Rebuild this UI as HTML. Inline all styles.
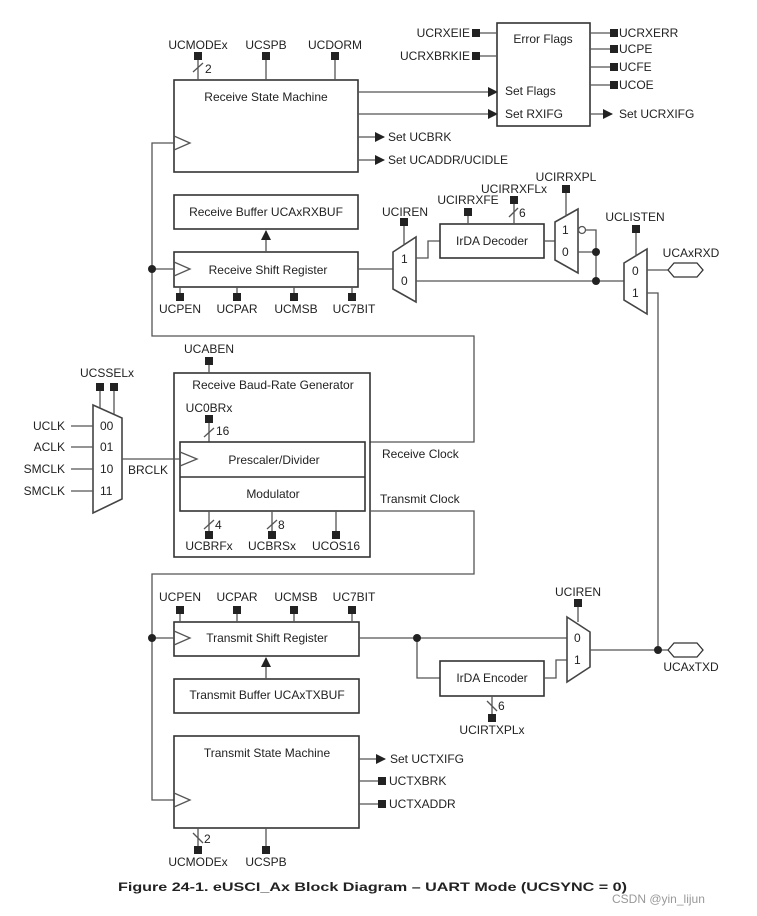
<!DOCTYPE html>
<html><head><meta charset="utf-8"><style>
html,body{margin:0;padding:0;background:#fff;}
svg{display:block;}
text{font-family:"Liberation Sans",Arial,sans-serif;font-size:12px;fill:#222;}
</style></head><body>
<svg width="757" height="916" viewBox="0 0 757 916" xmlns="http://www.w3.org/2000/svg">
<defs>
<marker id="a" markerWidth="10" markerHeight="10" refX="9" refY="5" orient="auto" markerUnits="userSpaceOnUse"><path d="M0,0 L10,5 L0,10 Z" fill="#222"/></marker>
</defs>
<g fill="none" stroke="#555" stroke-width="1.3">
<!-- Receive State Machine -->
<rect x="174" y="80" width="184" height="92" stroke="#333" stroke-width="1.6"/>
<polyline points="174,136 190,143 174,150" />
<line x1="198" y1="57" x2="198" y2="80"/><line x1="193" y1="72" x2="203" y2="63"/>
<line x1="266" y1="57" x2="266" y2="80"/><line x1="335" y1="57" x2="335" y2="80"/>
<line x1="358" y1="92" x2="497" y2="92" marker-end="url(#a)"/>
<line x1="358" y1="114" x2="497" y2="114" marker-end="url(#a)"/>
<line x1="358" y1="137" x2="384" y2="137" marker-end="url(#a)"/>
<line x1="358" y1="160" x2="384" y2="160" marker-end="url(#a)"/>
<!-- Error flags -->
<rect x="497" y="23" width="93" height="103" stroke="#333" stroke-width="1.6"/>
<line x1="476" y1="33" x2="497" y2="33"/><line x1="476" y1="56" x2="497" y2="56"/>
<line x1="590" y1="33" x2="612" y2="33"/><line x1="590" y1="49" x2="612" y2="49"/>
<line x1="590" y1="67" x2="612" y2="67"/><line x1="590" y1="85" x2="612" y2="85"/>
<line x1="590" y1="114" x2="612" y2="114" marker-end="url(#a)"/>
<!-- clock line -->
<polyline points="174,143 152,143 152,336 474,336 474,442 370,442"/>
<!-- Rx buffer & shift -->
<rect x="174" y="195" width="184" height="34" stroke="#333" stroke-width="1.6"/>
<rect x="174" y="252" width="184" height="35" stroke="#333" stroke-width="1.6"/>
<line x1="266" y1="252" x2="266" y2="231" marker-end="url(#a)"/>
<polyline points="174,262 190,269 174,276"/>
<line x1="152" y1="269" x2="174" y2="269"/>
<line x1="180" y1="287" x2="180" y2="297"/><line x1="237" y1="287" x2="237" y2="297"/>
<line x1="294" y1="287" x2="294" y2="297"/><line x1="352" y1="287" x2="352" y2="297"/>
<line x1="358" y1="269" x2="393" y2="269"/>
<!-- mux1 -->
<polygon points="393,252 416,237 416,302 393,289" stroke="#444" stroke-width="1.6"/>
<line x1="404" y1="222" x2="404" y2="245"/>
<polyline points="416,258 428,258 428,241 440,241"/>
<line x1="416" y1="281" x2="624" y2="281"/>
<!-- IrDA decoder -->
<rect x="440" y="224" width="104" height="34" stroke="#333" stroke-width="1.6"/>
<line x1="468" y1="212" x2="468" y2="224"/>
<line x1="514" y1="200" x2="514" y2="224"/><line x1="509" y1="217" x2="518" y2="208"/>
<line x1="544" y1="241" x2="555" y2="241"/>
<!-- mux2 -->
<polygon points="555,222 578,209 578,273 555,260" stroke="#444" stroke-width="1.6"/>
<line x1="566" y1="189" x2="566" y2="216"/>
<circle cx="582" cy="230" r="3.5" fill="#fff"/>
<polyline points="586,230 596,230 596,281"/>
<line x1="578" y1="252" x2="596" y2="252"/>
<!-- mux3 -->
<polygon points="624,263 647,249 647,314 624,300" stroke="#444" stroke-width="1.6"/>
<line x1="636" y1="229" x2="636" y2="256"/>
<line x1="647" y1="270" x2="668" y2="270"/>
<polyline points="647,293 658,293 658,650"/>
<!-- Baud gen -->
<rect x="174" y="373" width="196" height="184" stroke="#333" stroke-width="1.6"/>
<line x1="209" y1="361" x2="209" y2="373"/>
<line x1="209" y1="419" x2="209" y2="442"/><line x1="204" y1="437" x2="214" y2="428"/>
<rect x="180" y="442" width="185" height="69" stroke="#333" stroke-width="1.6"/>
<line x1="180" y1="477" x2="365" y2="477" stroke="#333" stroke-width="1.6"/>
<polyline points="180,452 197,459 180,466"/>
<line x1="209" y1="511" x2="209" y2="535"/><line x1="204" y1="529" x2="214" y2="520"/>
<line x1="272" y1="511" x2="272" y2="535"/><line x1="267" y1="529" x2="277" y2="520"/>
<line x1="336" y1="511" x2="336" y2="535"/>
<polyline points="370,511 474,511 474,574 152,574 152,800 174,800"/>
<!-- clock mux -->
<polygon points="93,405 122,418 122,499 93,513" stroke="#444" stroke-width="1.6"/>
<line x1="100" y1="387" x2="100" y2="408"/><line x1="114" y1="387" x2="114" y2="414"/>
<line x1="71" y1="426" x2="93" y2="426"/><line x1="71" y1="447" x2="93" y2="447"/>
<line x1="71" y1="469" x2="93" y2="469"/><line x1="71" y1="491" x2="93" y2="491"/>
<line x1="122" y1="459" x2="180" y2="459"/>
<!-- TX shift -->
<rect x="174" y="622" width="185" height="34" stroke="#333" stroke-width="1.6"/>
<polyline points="174,631 190,638 174,645"/>
<line x1="152" y1="638" x2="174" y2="638"/>
<line x1="180" y1="610" x2="180" y2="622"/><line x1="237" y1="610" x2="237" y2="622"/>
<line x1="294" y1="610" x2="294" y2="622"/><line x1="352" y1="610" x2="352" y2="622"/>
<rect x="174" y="679" width="185" height="34" stroke="#333" stroke-width="1.6"/>
<line x1="266" y1="679" x2="266" y2="658" marker-end="url(#a)"/>
<line x1="359" y1="638" x2="567" y2="638"/>
<polyline points="417,638 417,678 440,678"/>
<rect x="440" y="661" width="104" height="35" stroke="#333" stroke-width="1.6"/>
<line x1="492" y1="696" x2="492" y2="718"/><line x1="487" y1="701" x2="497" y2="711"/>
<polyline points="544,678 556,678 556,660 567,660"/>
<polygon points="567,617 590,632 590,667 567,682" stroke="#444" stroke-width="1.6"/>
<line x1="578" y1="603" x2="578" y2="622"/>
<line x1="590" y1="650" x2="668" y2="650"/>
<!-- TX state machine -->
<rect x="174" y="736" width="185" height="92" stroke="#333" stroke-width="1.6"/>
<polyline points="174,793 190,800 174,807"/>
<line x1="359" y1="759" x2="385" y2="759" marker-end="url(#a)"/>
<line x1="359" y1="781" x2="380" y2="781"/><line x1="359" y1="804" x2="380" y2="804"/>
<line x1="198" y1="828" x2="198" y2="850"/><line x1="193" y1="833" x2="203" y2="843"/>
<line x1="266" y1="828" x2="266" y2="850"/>
<!-- hex pins -->
<polygon points="668,270 674,263 697,263 703,270 697,277 674,277" stroke="#333"/>
<polygon points="668,650 674,643 697,643 703,650 697,657 674,657" stroke="#333"/>
</g>
<g fill="#222">
<circle cx="152" cy="269" r="4"/><circle cx="596" cy="252" r="4"/><circle cx="596" cy="281" r="4"/>
<circle cx="152" cy="638" r="4"/><circle cx="417" cy="638" r="4"/><circle cx="658" cy="650" r="4"/>
<!-- squares -->
<rect x="194" y="52" width="8" height="8"/><rect x="262" y="52" width="8" height="8"/><rect x="331" y="52" width="8" height="8"/>
<rect x="472" y="29" width="8" height="8"/><rect x="472" y="52" width="8" height="8"/>
<rect x="610" y="29" width="8" height="8"/><rect x="610" y="45" width="8" height="8"/><rect x="610" y="63" width="8" height="8"/><rect x="610" y="81" width="8" height="8"/>
<rect x="176" y="293" width="8" height="8"/><rect x="233" y="293" width="8" height="8"/><rect x="290" y="293" width="8" height="8"/><rect x="348" y="293" width="8" height="8"/>
<rect x="400" y="218" width="8" height="8"/><rect x="464" y="208" width="8" height="8"/><rect x="510" y="196" width="8" height="8"/><rect x="562" y="185" width="8" height="8"/><rect x="632" y="225" width="8" height="8"/>
<rect x="205" y="357" width="8" height="8"/><rect x="205" y="415" width="8" height="8"/>
<rect x="96" y="383" width="8" height="8"/><rect x="110" y="383" width="8" height="8"/>
<rect x="205" y="531" width="8" height="8"/><rect x="268" y="531" width="8" height="8"/><rect x="332" y="531" width="8" height="8"/>
<rect x="176" y="606" width="8" height="8"/><rect x="233" y="606" width="8" height="8"/><rect x="290" y="606" width="8" height="8"/><rect x="348" y="606" width="8" height="8"/>
<rect x="574" y="599" width="8" height="8"/><rect x="488" y="714" width="8" height="8"/>
<rect x="378" y="777" width="8" height="8"/><rect x="378" y="800" width="8" height="8"/>
<rect x="194" y="846" width="8" height="8"/><rect x="262" y="846" width="8" height="8"/>
</g>
<g>
<text x="198" y="49" text-anchor="middle">UCMODEx</text>
<text x="266" y="49" text-anchor="middle">UCSPB</text>
<text x="335" y="49" text-anchor="middle">UCDORM</text>
<text x="205" y="73">2</text>
<text x="266" y="101" text-anchor="middle">Receive State Machine</text>
<text x="470" y="37" text-anchor="end">UCRXEIE</text>
<text x="470" y="60" text-anchor="end">UCRXBRKIE</text>
<text x="543" y="43" text-anchor="middle">Error Flags</text>
<text x="505" y="95">Set Flags</text>
<text x="505" y="118">Set RXIFG</text>
<text x="619" y="37">UCRXERR</text><text x="619" y="53">UCPE</text><text x="619" y="71">UCFE</text><text x="619" y="89">UCOE</text>
<text x="619" y="118">Set UCRXIFG</text>
<text x="388" y="141">Set UCBRK</text>
<text x="388" y="164">Set UCADDR/UCIDLE</text>
<text x="266" y="216" text-anchor="middle">Receive Buffer UCAxRXBUF</text>
<text x="268" y="274" text-anchor="middle">Receive Shift Register</text>
<text x="180" y="313" text-anchor="middle">UCPEN</text><text x="237" y="313" text-anchor="middle">UCPAR</text>
<text x="296" y="313" text-anchor="middle">UCMSB</text><text x="354" y="313" text-anchor="middle">UC7BIT</text>
<text x="405" y="216" text-anchor="middle">UCIREN</text>
<text x="401" y="263">1</text><text x="401" y="285">0</text>
<text x="468" y="204" text-anchor="middle">UCIRRXFE</text>
<text x="514" y="193" text-anchor="middle">UCIRRXFLx</text>
<text x="519" y="217">6</text>
<text x="492" y="245" text-anchor="middle">IrDA Decoder</text>
<text x="566" y="181" text-anchor="middle">UCIRRXPL</text>
<text x="562" y="234">1</text><text x="562" y="256">0</text>
<text x="635" y="221" text-anchor="middle">UCLISTEN</text>
<text x="632" y="275">0</text><text x="632" y="297">1</text>
<text x="691" y="257" text-anchor="middle">UCAxRXD</text>
<text x="209" y="353" text-anchor="middle">UCABEN</text>
<text x="273" y="389" text-anchor="middle">Receive Baud-Rate Generator</text>
<text x="209" y="412" text-anchor="middle">UC0BRx</text>
<text x="216" y="435">16</text>
<text x="274" y="464" text-anchor="middle">Prescaler/Divider</text>
<text x="273" y="498" text-anchor="middle">Modulator</text>
<text x="215" y="529">4</text><text x="278" y="529">8</text>
<text x="209" y="550" text-anchor="middle">UCBRFx</text><text x="272" y="550" text-anchor="middle">UCBRSx</text><text x="336" y="550" text-anchor="middle">UCOS16</text>
<text x="382" y="458">Receive Clock</text>
<text x="380" y="503">Transmit Clock</text>
<text x="107" y="377" text-anchor="middle">UCSSELx</text>
<text x="65" y="430" text-anchor="end">UCLK</text><text x="65" y="451" text-anchor="end">ACLK</text>
<text x="65" y="473" text-anchor="end">SMCLK</text><text x="65" y="495" text-anchor="end">SMCLK</text>
<text x="100" y="430">00</text><text x="100" y="451">01</text><text x="100" y="473">10</text><text x="100" y="495">11</text>
<text x="128" y="474">BRCLK</text>
<text x="180" y="601" text-anchor="middle">UCPEN</text><text x="237" y="601" text-anchor="middle">UCPAR</text>
<text x="296" y="601" text-anchor="middle">UCMSB</text><text x="354" y="601" text-anchor="middle">UC7BIT</text>
<text x="267" y="642" text-anchor="middle">Transmit Shift Register</text>
<text x="267" y="699" text-anchor="middle">Transmit Buffer UCAxTXBUF</text>
<text x="578" y="596" text-anchor="middle">UCIREN</text>
<text x="574" y="642">0</text><text x="574" y="664">1</text>
<text x="492" y="682" text-anchor="middle">IrDA Encoder</text>
<text x="498" y="710">6</text>
<text x="492" y="734" text-anchor="middle">UCIRTXPLx</text>
<text x="691" y="671" text-anchor="middle">UCAxTXD</text>
<text x="267" y="757" text-anchor="middle">Transmit State Machine</text>
<text x="390" y="763">Set UCTXIFG</text>
<text x="389" y="785">UCTXBRK</text>
<text x="389" y="808">UCTXADDR</text>
<text x="204" y="843">2</text>
<text x="198" y="866" text-anchor="middle">UCMODEx</text>
<text x="266" y="866" text-anchor="middle">UCSPB</text>
<text x="118" y="891" font-weight="bold" font-size="14" textLength="509" lengthAdjust="spacingAndGlyphs">Figure 24-1. eUSCI_Ax Block Diagram – UART Mode (UCSYNC = 0)</text>
<text x="612" y="903" font-size="13" fill="#999" style="fill:#999">CSDN @yin_lijun</text>
</g>
</svg>
</body></html>
